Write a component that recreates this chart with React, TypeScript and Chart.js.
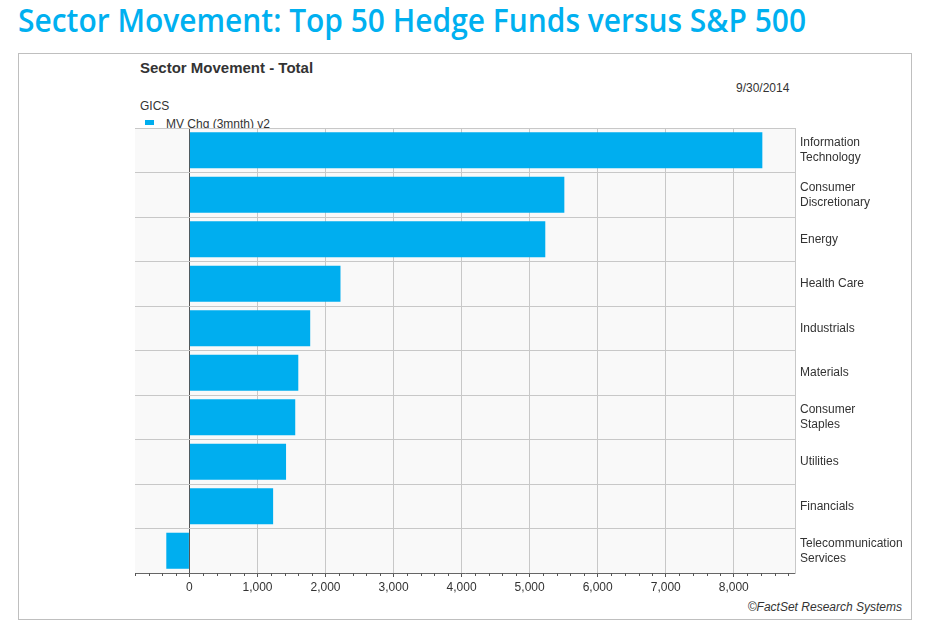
import React, { useEffect, useLayoutEffect, useRef } from "react";
import { Chart, registerables } from "chart.js";

Chart.register(...registerables);

// Sector names (wrapped the way the axis shows them)
const sectors: (string | string[])[] = [
  ["Information", "Technology"],
  ["Consumer", "Discretionary"],
  "Energy",
  "Health Care",
  "Industrials",
  "Materials",
  ["Consumer", "Staples"],
  "Utilities",
  "Financials",
  ["Telecommunication", "Services"],
];

// Market value change over 3 months
const mvChange: number[] = [8420, 5510, 5230, 2220, 1775, 1600, 1555, 1420, 1230, -340];

// Labelled values on the horizontal axis
const xTickValues: number[] = [0, 1000, 2000, 3000, 4000, 5000, 6000, 7000, 8000];

const seriesLabel = "MV Chg (3mnth) v2";
const pageTitle = "Sector Movement: Top 50 Hedge Funds versus S&P 500";
const chartTitle = "Sector Movement - Total";
const asOfDate = "9/30/2014";
const groupLabel = "GICS";
const sourceNote = "\u00A9FactSet Research Systems";

const axisMin = -800;
const axisMax = 8900;
const majorStep = 1000;
const minorStep = 200;

const FONT = '"Liberation Sans", Arial, Helvetica, sans-serif';
const BAR_COLOR = "#00AEEF";
const GRID_COLOR = "#c8c8c8";
const AXIS_COLOR = "#555555";
const TEXT_COLOR = "#333333";

// Light plot background behind the bars
const plotBackground = {
  id: "plotBackground",
  beforeDraw(chart: Chart) {
    const { ctx, chartArea } = chart;
    ctx.save();
    ctx.fillStyle = "#f9f9f9";
    ctx.fillRect(chartArea.left, chartArea.top, chartArea.right - chartArea.left, chartArea.bottom - chartArea.top);
    ctx.restore();
  },
};

// Short minor tick marks between the labelled values
const minorTicks = {
  id: "minorTicks",
  afterDraw(chart: Chart) {
    const scale: any = chart.scales.x;
    const { ctx, chartArea } = chart;
    ctx.save();
    ctx.strokeStyle = AXIS_COLOR;
    ctx.lineWidth = 1;
    ctx.beginPath();
    for (let v = axisMin; v < axisMax; v += minorStep) {
      if (v % majorStep === 0) continue;
      const x = Math.round(scale.getPixelForValue(v)) + 0.5;
      ctx.moveTo(x, chartArea.bottom);
      ctx.lineTo(x, chartArea.bottom + 3);
    }
    ctx.stroke();
    ctx.restore();
  },
};

function MovementChart() {
  const canvasRef = useRef<HTMLCanvasElement | null>(null);

  useEffect(() => {
    const canvas = canvasRef.current;
    if (!canvas) return;
    const chart = new Chart(canvas, {
      type: "bar",
      data: {
        labels: sectors as any,
        datasets: [
          {
            label: seriesLabel,
            data: mvChange,
            backgroundColor: BAR_COLOR,
            borderWidth: 0,
            barPercentage: 0.81,
            categoryPercentage: 1,
          },
        ],
      },
      options: {
        indexAxis: "y",
        responsive: false,
        animation: false,
        layout: { padding: { left: 135, top: 128, right: 0, bottom: 0 } },
        plugins: {
          legend: { display: false },
          tooltip: { enabled: false },
          title: { display: false },
        },
        scales: {
          x: {
            type: "linear",
            position: "bottom",
            min: axisMin,
            max: axisMax,
            afterBuildTicks: (scale: any) => {
              scale.ticks = xTickValues.map((value) => ({ value }));
            },
            ticks: {
              color: TEXT_COLOR,
              font: { family: FONT, size: 12 },
              padding: 3,
              maxRotation: 0,
              autoSkip: false,
              callback: (value: any) => Number(value).toLocaleString("en-US"),
            },
            grid: {
              color: (ctx: any) => (ctx.tick && ctx.tick.value === 0 ? AXIS_COLOR : GRID_COLOR),
              tickColor: AXIS_COLOR,
              tickLength: 4,
            },
            border: { color: "#666666" },
            afterFit: (scale: any) => {
              scale.height = 58;
            },
          },
          y: {
            position: "right",
            ticks: {
              color: TEXT_COLOR,
              font: { family: FONT, size: 12, lineHeight: 1.25 },
              padding: 5,
              crossAlign: "near",
            },
            grid: { color: GRID_COLOR, drawTicks: false, offset: true },
            border: { color: GRID_COLOR },
            afterFit: (scale: any) => {
              scale.width = 131;
            },
          },
        },
      } as any,
      plugins: [plotBackground, minorTicks],
    });
    return () => chart.destroy();
  }, []);

  return (
    <canvas
      ref={canvasRef}
      width={926}
      height={631}
      style={{ position: "absolute", left: 0, top: 0, width: 926, height: 631 }}
    />
  );
}

export default function App() {
  const titleRef = useRef<HTMLDivElement | null>(null);

  useLayoutEffect(() => {
    const el = titleRef.current;
    if (!el) return;
    const w = el.getBoundingClientRect().width;
    if (w > 0) el.style.transform = `scaleX(${788 / w})`;
  }, []);

  const text = (extra: React.CSSProperties): React.CSSProperties => ({
    position: "absolute",
    fontFamily: FONT,
    fontSize: 12,
    lineHeight: "12px",
    color: TEXT_COLOR,
    whiteSpace: "nowrap",
    ...extra,
  });

  return (
    <div
      style={{
        position: "absolute",
        left: 0,
        top: 0,
        width: 926,
        height: 631,
        background: "#ffffff",
        overflow: "hidden",
      }}
    >
      <div
        ref={titleRef}
        style={{
          position: "absolute",
          left: 18,
          top: 4,
          display: "inline-block",
          fontFamily: '"Open Sans", "Noto Sans", sans-serif',
          fontWeight: 600,
          fontSize: 32,
          lineHeight: "32px",
          color: "#00B0F0",
          whiteSpace: "nowrap",
          transformOrigin: "0 0",
        }}
      >
        {pageTitle}
      </div>

      <div
        style={{
          position: "absolute",
          left: 18,
          top: 53,
          width: 894,
          height: 567,
          border: "1px solid #bfbfbf",
          boxSizing: "border-box",
        }}
      />

      <div style={text({ left: 140, top: 60, fontSize: 15, lineHeight: "15px", fontWeight: 700 })}>{chartTitle}</div>
      <div style={text({ left: 736, top: 82 })}>{asOfDate}</div>
      <div style={text({ left: 140, top: 100 })}>{groupLabel}</div>
      <div style={{ position: "absolute", left: 145, top: 120, width: 9, height: 5, background: BAR_COLOR }} />
      <div style={text({ left: 166, top: 118 })}>{seriesLabel}</div>
      <div style={text({ right: 926 - 902, top: 601, fontStyle: "italic" })}>{sourceNote}</div>

      <MovementChart />
    </div>
  );
}
